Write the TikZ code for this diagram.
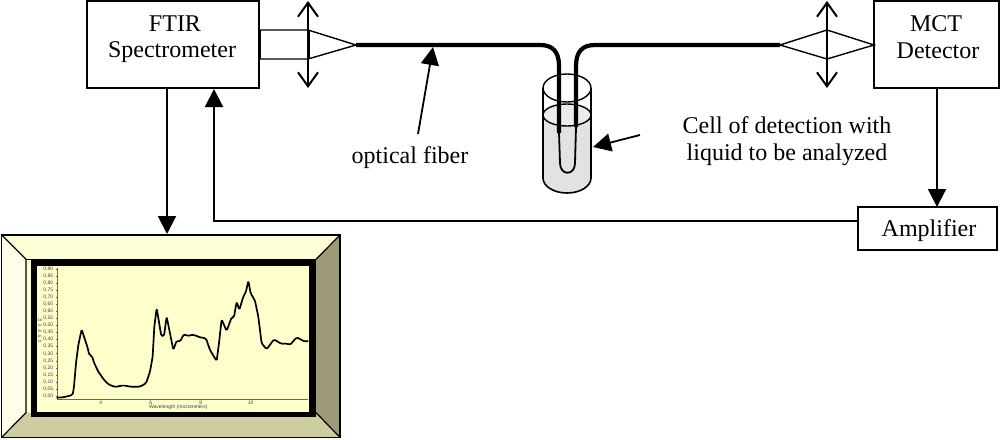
\documentclass[tikz,border=0pt]{standalone}
\usepackage{fontspec}
\setmainfont{Liberation Serif}
\newfontfamily\plotfont{Liberation Sans}
\usetikzlibrary{arrows.meta}
\definecolor{framelight}{HTML}{FFFFE8}
\definecolor{frametop}{HTML}{FDFDD6}
\definecolor{frameright}{HTML}{9C9A78}
\definecolor{framebottom}{HTML}{CDCDA0}
\definecolor{plotbg}{HTML}{FFFFCC}
\definecolor{liquid}{HTML}{E2E2E2}
\tikzset{
  box/.style={draw=black, line width=1.6pt, fill=white, inner sep=0pt},
  label/.style={align=center, font=\fontsize{24}{27}\selectfont, inner sep=0pt},
  flow/.style={line width=2pt, -{Triangle[length=18pt,width=18pt]}},
  lens/.style={line width=2pt, {Straight Barb[length=14pt,width=20pt,line width=2pt]}-{Straight Barb[length=14pt,width=20pt,line width=2pt]}},
  thin part/.style={line width=1.4pt},
  fiber/.style={line width=4.2pt, line join=round},
  tiny/.style={font=\plotfont\fontsize{5}{5}\selectfont, inner sep=0pt, text=black!75}
}
\begin{document}
\begin{tikzpicture}[x=1pt,y=-1pt]
\useasboundingbox (0,0) rectangle (1000,439);
\fill[white] (0,0) rectangle (1000,439);

% instrument boxes
\node[box, minimum width=172pt, minimum height=87pt] (ftir) at (173,44.5) {};
\node[label] (ftirt) at (175,24) {FTIR};
\node[label] (ftirs) at (172,52) {Spectrometer};
\node[box, minimum width=125pt, minimum height=87pt] (mct) at (936.5,44.5) {};
\node[label] (mctt) at (936,24) {MCT};
\node[label] (mctd) at (938,51) {Detector};
\node[box, minimum width=139pt, minimum height=43pt] (amp) at (927.5,228.5) {};
\node[label] (ampt) at (929,231) {Amplifier};

% coupling optics, left
\coordinate (lt) at (308,1);
\coordinate (lb) at (308,88);
\coordinate (la) at (308,30);
\coordinate (lc) at (308,59);
\coordinate (fa) at (259,30);
\coordinate (fc) at (259,59);
\coordinate (tipl) at (356,45);
\draw[thin part] (fa) -- (la) -- (tipl) -- (lc) -- (fc);
\draw[line width=3pt] (fa) -- (fc);
\draw[line width=3pt] (la) -- (lc);
\draw[lens] (lb) -- (lt);

% coupling optics, right
\coordinate (rt) at (827,1);
\coordinate (rb) at (827,88);
\coordinate (tipr) at (780,45);
\coordinate (mctw) at (874,45);
\draw[thin part] (tipr) -- (827,30) -- (mctw) -- (827,59) -- cycle;
\draw[lens] (rb) -- (rt);

% detection cell
\fill[liquid] (543,115) -- (543,178) arc[start angle=180, end angle=0, x radius=24, y radius=15] -- (591,115) -- cycle;
\draw[line width=1.6pt] (543,88) -- (543,178) arc[start angle=180, end angle=0, x radius=24, y radius=15] -- (591,88);
\draw[thin part, fill=white] (567,88) ellipse[x radius=24, y radius=14];
\draw[thin part, fill=liquid!70] (567,115) ellipse[x radius=24, y radius=11];

% fiber
\coordinate (fl) at (559,133);
\coordinate (fr) at (576,127);
\draw[fiber] (tipl) -- (540,45) .. controls (553,45) and (559,52) .. (559,66) -- (fl);
\draw[fiber] (fr) -- (576,66) .. controls (576,52) and (582,45) .. (595,45) -- (tipr);
\draw[line width=1.8pt] (fl) -- (560,163) .. controls (560,176) and (575,176) .. (575,163) -- (fr);

% connectors
\coordinate (spec) at (167,234);
\coordinate (ftirin) at (214,89);
\coordinate (corner) at (214,221);
\draw[flow] (167,88) -- (spec);
\draw[flow] (amp.west |- 0,221) -- (corner) -- (ftirin);
\draw[flow] (937,88) -- (937,207);

% annotations
\node[label] (fibt) at (410,158) {optical fiber};
\node[label] (cellt) at (787,141) {Cell of detection with\\liquid to be analyzed};
\coordinate (fibs) at (418,134);
\coordinate (fibe) at (433,47);
\coordinate (cells) at (640,135);
\coordinate (celle) at (593,147);
\draw[flow, line width=1.8pt] (fibs) -- (fibe);
\draw[flow, line width=1.8pt] (cells) -- (celle);

% spectrum display, coordinates are those of a 3x crop
\begin{scope}[shift={(0,230)},x=0.3333pt,y=-0.3333pt]
  \fill[plotbg] (78,88) rectangle (948,548);
  \fill[frametop] (5,15) -- (1020,15) -- (948,88) -- (78,88) -- cycle;
  \fill[framelight] (5,15) -- (78,88) -- (78,548) -- (5,622) -- cycle;
  \fill[frameright] (1020,15) -- (948,88) -- (948,548) -- (1020,622) -- cycle;
  \fill[framebottom] (5,622) -- (78,548) -- (948,548) -- (1020,622) -- cycle;
  \draw[line width=1.4pt] (5,15) rectangle (1020,622);
  \draw[line width=1.2pt] (5,15) -- (78,88) -- (78,548) -- (5,622);
  \draw[line width=1.2pt] (1020,15) -- (948,88);
  \draw[line width=1.2pt] (1020,622) -- (948,548);
  \draw[line width=1.2pt] (78,88) -- (948,88);
  \fill[black] (92,90) rectangle (947,562);
  \fill[plotbg] (110,108) rectangle (928,545);
  \draw[line width=0.4pt, black!60] (172,115) -- (172,508) -- (922,508);
  \foreach \lab [count=\i from 0] in {0{,}00,0{,}05,0{,}10,0{,}15,0{,}20,0{,}25,0{,}30,0{,}35,0{,}40,0{,}45,0{,}50,0{,}55,0{,}60,0{,}65,0{,}70,0{,}75,0{,}80,0{,}85,0{,}90} {
    \pgfmathsetmacro{\yy}{498-\i*21.2}
    \draw[line width=0.3pt, black!60] (168,\yy) -- (172,\yy);
    \node[tiny, anchor=east] at (160,\yy) {\lab};
  }
  \foreach \i in {0,...,20} \draw[line width=0.3pt, black!60] ({172+\i*37.5},508) -- ({172+\i*37.5},511);
  \foreach \v/\px in {4/302, 6/452, 8/602, 10/752} \node[tiny] at (\px,519) {\v};
  \node[tiny] at (535,533) {Wavelength (micrometers)};
  \foreach \s/\py in {Ab/271, so/287, rb/303, an/319, ce/335} \node[tiny, font=\plotfont\fontsize{3.6}{3.6}\selectfont] at (119,\py) {\s};
  \draw[line width=1.7pt, line join=round, rounded corners=1.5pt]
    (170,503) -- (190,502) -- (205,498) -- (218,495) -- (222,470) -- (228,400) -- (235,345) -- (245,298)
    -- (252,320) -- (262,350) -- (268,375) -- (276,378) -- (282,398) -- (295,425) -- (310,447) -- (325,463)
    -- (345,471) -- (370,466) -- (390,470) -- (420,470) -- (438,460) -- (450,425) -- (458,380) -- (463,290)
    -- (470,235) -- (476,270) -- (484,318) -- (492,318) -- (500,260) -- (508,300) -- (520,360) -- (530,332)
    -- (540,335) -- (552,312) -- (562,318) -- (580,314) -- (600,322) -- (618,325) -- (630,360) -- (650,393)
    -- (657,340) -- (665,268) -- (670,280) -- (680,303) -- (695,262) -- (702,262) -- (710,215) -- (718,240)
    -- (730,200) -- (738,185) -- (745,152) -- (752,190) -- (765,212) -- (775,260) -- (785,340) -- (800,358)
    -- (822,328) -- (845,342) -- (860,340) -- (870,345) -- (890,322) -- (915,335) -- (925,333);
\end{scope}
\end{tikzpicture}
\end{document}
